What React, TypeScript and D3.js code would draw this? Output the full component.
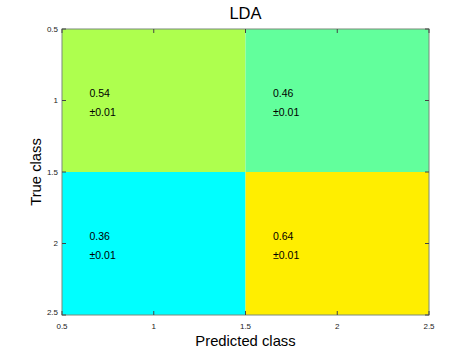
import React from "react";
import * as d3 from "d3";

const predicted = [1, 2];
const trueClass = [1, 2];
const means = [
  [0.54, 0.46],
  [0.36, 0.64],
];
const stds = [
  [0.01, 0.01],
  [0.01, 0.01],
];
const cellColors = [
  ["#AEFF4E", "#62FF9C"],
  ["#00FFFF", "#FFEE00"],
];
const ticks = [0.5, 1, 1.5, 2, 2.5];

export default function App() {
  const W = 474, H = 355;
  const x = d3.scaleLinear().domain([0.5, 2.5]).range([62, 429]);
  const y = d3.scaleLinear().domain([0.5, 2.5]).range([29, 315]);
  const font = "Liberation Sans, Arial, sans-serif";
  return (
    <svg width={W} height={H} style={{ position: "absolute", left: 0, top: 0 }} fontFamily={font}>
      <rect width={W} height={H} fill="#fff" />
      {trueClass.map((t, i) =>
        predicted.map((p, j) => (
          <rect key={`${i}-${j}`} x={x(p - 0.5)} y={y(t - 0.5)} width={x(p + 0.5) - x(p - 0.5)} height={y(t + 0.5) - y(t - 0.5)} fill={cellColors[i][j]} />
        ))
      )}
      {trueClass.map((t, i) =>
        predicted.map((p, j) => (
          <g key={`t${i}-${j}`} fontSize={10.5} fill="#000">
            <text x={x(p - 0.35)} y={y(t - 0.053)} dominantBaseline="central">{means[i][j].toFixed(2)}</text>
            <text x={x(p - 0.35)} y={y(t + 0.08)} dominantBaseline="central">±{stds[i][j].toFixed(2)}</text>
          </g>
        ))
      )}
      <rect x={62} y={29} width={367} height={286} fill="none" stroke="#7a8a7a" strokeWidth={1} />
      {ticks.map((v) => (
        <g key={`x${v}`}>
          <line x1={x(v)} x2={x(v)} y1={315} y2={311} stroke="#444" />
          <line x1={x(v)} x2={x(v)} y1={29} y2={33} stroke="#444" />
          <text x={x(v)} y={326} fontSize={8} textAnchor="middle" dominantBaseline="central" fill="#222">{v}</text>
        </g>
      ))}
      {ticks.map((v) => (
        <g key={`y${v}`}>
          <line x1={62} x2={66} y1={y(v)} y2={y(v)} stroke="#444" />
          <line x1={429} x2={425} y1={y(v)} y2={y(v)} stroke="#444" />
          <text x={58} y={v === 2.5 ? y(v) - 3 : y(v)} fontSize={8} textAnchor="end" dominantBaseline="central" fill="#222">{v}</text>
        </g>
      ))}
      <text x={245.5} y={13} fontSize={16.5} textAnchor="middle" dominantBaseline="central" fill="#000">LDA</text>
      <text x={245.5} y={341} fontSize={14.8} textAnchor="middle" dominantBaseline="central" fill="#000">Predicted class</text>
      <text transform={`translate(36,172) rotate(-90)`} fontSize={14.8} textAnchor="middle" dominantBaseline="central" fill="#000">True class</text>
    </svg>
  );
}
